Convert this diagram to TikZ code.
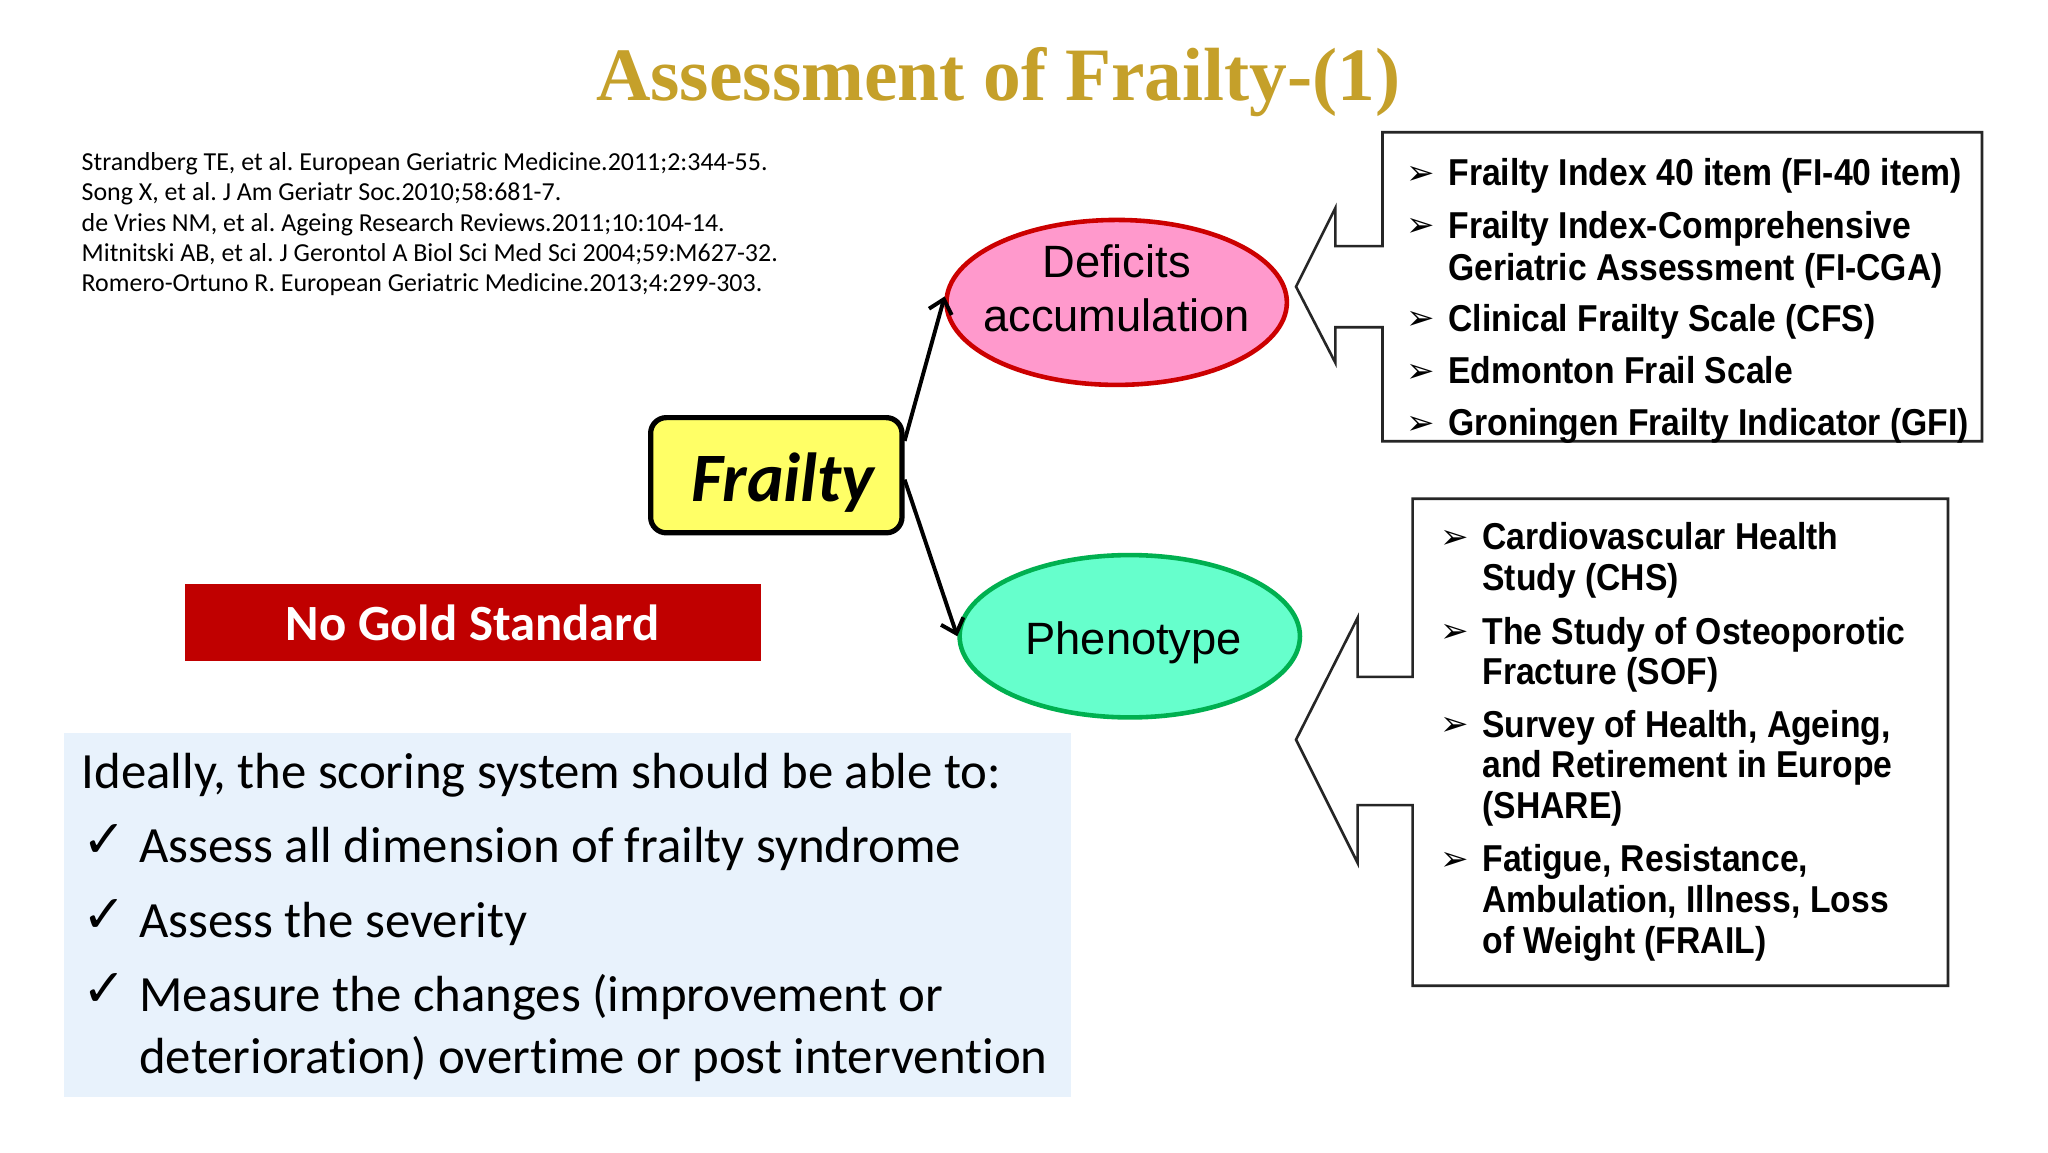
\documentclass[tikz,border=0pt]{standalone}
\usepackage{fontspec}
\setmainfont{Carlito}[Ligatures=NoCommon]
\newfontfamily\arialf{Liberation Sans}
\newfontfamily\arialc{Liberation Sans}[FakeStretch=0.9]
\newfontfamily\titlef{Liberation Serif}
\newfontfamily\djv{DejaVu Sans}
\usetikzlibrary{arrows.meta,shapes.geometric}
\definecolor{gold}{RGB}{197,160,42}
\definecolor{defred}{RGB}{204,0,0}
\definecolor{defpink}{RGB}{255,153,204}
\definecolor{phgreen}{RGB}{0,176,80}
\definecolor{phaqua}{RGB}{102,255,204}
\definecolor{fryellow}{RGB}{255,255,102}
\definecolor{ngred}{RGB}{192,0,0}
\definecolor{lightblue}{RGB}{232,242,252}
\frenchspacing
\tikzset{
  reftext/.style={anchor=base west, inner sep=0, font=\fontsize{9.9}{11}\selectfont},
  listtext/.style={anchor=base west, inner sep=0, font=\arialc\bfseries\fontsize{14.3}{16}\selectfont},
  bullet/.style={anchor=base west, inner sep=0, font=\djv\fontsize{13}{14}\selectfont},
  bluetext/.style={anchor=base west, inner sep=0, font=\fontsize{19.4}{22}\selectfont},
  checkmk/.style={anchor=base west, inner sep=0, font=\djv\fontsize{20}{22}\selectfont},
  elltext/.style={anchor=base, inner sep=0, font=\arialf\fontsize{17.3}{20}\selectfont},
  callout/.style={draw=black!85, line width=1pt, line join=miter},
  conn/.style={draw, line width=1.5pt, -{Straight Barb[length=5pt,width=9pt,line width=1.5pt]}}
}
\begin{document}
\begin{tikzpicture}[x=0.5pt,y=-0.5pt]
\useasboundingbox (0,0) rectangle (1564.4,880);
\fill[white] (0,0) rectangle (1564.4,880);

% title
\node[anchor=base, inner sep=0, text=gold, font=\titlef\bfseries\fontsize{28.8}{30}\selectfont] (title) at (762.5,77) {Assessment of Frailty-(1)};

% references
\node[reftext] (r1) at (62,130) {Strandberg TE, et al. European Geriatric Medicine.2011;2:344-55.};
\node[reftext] (r2) at (62,153) {Song X, et al. J Am Geriatr Soc.2010;58:681-7.};
\node[reftext] (r3) at (62,177) {de Vries NM, et al. Ageing Research Reviews.2011;10:104-14.};
\node[reftext] (r4) at (62,200) {Mitnitski AB, et al. J Gerontol A Biol Sci Med Sci 2004;59:M627-32.};
\node[reftext] (r5) at (62,223) {Romero-Ortuno R. European Geriatric Medicine.2013;4:299-303.};

% ellipses
\node[ellipse, draw=defred, fill=defpink, line width=1.75pt, minimum width=130pt, minimum height=63pt, inner sep=0] (def) at (853,231) {};
\node[elltext] (deft1) at (853,212) {Deficits};
\node[elltext] (deft2) at (853,253) {accumulation};
\node[ellipse, draw=phgreen, fill=phaqua, line width=1.75pt, minimum width=130pt, minimum height=62pt, inner sep=0] (phen) at (863,486) {};
\node[elltext] (phent) at (866,500) {Phenotype};

% frailty box
\node[draw=black, fill=fryellow, line width=2pt, rounded corners=6pt, minimum width=96pt, minimum height=44pt, inner sep=0] (fr) at (593,363) {};
\node[anchor=base, inner sep=0, font=\bfseries\itshape\fontsize{26.5}{28}\selectfont] (frt) at (598,383) {Frailty};

% arrows
\draw[conn] (fr.15) -- (def.178);
\draw[conn] (fr.-2) -- (phen.west);

% no gold standard
\node[fill=ngred, minimum width=220pt, minimum height=29.5pt, inner sep=0] (ng) at (361,475.5) {};
\node[anchor=base, inner sep=0, text=white, font=\bfseries\fontsize{19.4}{22}\selectfont] (ngt) at (361,489) {No Gold Standard};

% blue box
\fill[lightblue] (49,560) rectangle (818,838);
\node[bluetext] (b0) at (62,602) {Ideally, the scoring system should be able to:};
\node[checkmk] (c1) at (63,655) {✓};
\node[bluetext] (b1) at (106,659) {Assess all dimension of frailty syndrome};
\node[checkmk] (c2) at (63,712) {✓};
\node[bluetext] (b2) at (106,716) {Assess the severity};
\node[checkmk] (c3) at (63,769) {✓};
\node[bluetext] (b3) at (106,773) {Measure the changes (improvement or};
\node[bluetext] (b4) at (106,820) {deterioration) overtime or post intervention};

% callout box 1
\draw[callout] (1056,188) -- (1056,101) -- (1514,101) -- (1514,337) -- (1056,337) -- (1056,250) -- (1020,250) -- (1020,277) -- (990,219) -- (1020,159) -- (1020,188) -- cycle;
\node[bullet] (a1) at (1074,141) {➢};
\node[listtext] (l1) at (1106,142) {Frailty Index 40 item (FI-40 item)};
\node[bullet] (a2) at (1074,181) {➢};
\node[listtext] (l2) at (1106,182) {Frailty Index-Comprehensive};
\node[listtext] (l2b) at (1106,214) {Geriatric Assessment (FI-CGA)};
\node[bullet] (a3) at (1074,252) {➢};
\node[listtext] (l3) at (1106,253) {Clinical Frailty Scale (CFS)};
\node[bullet] (a4) at (1074,292) {➢};
\node[listtext] (l4) at (1106,293) {Edmonton Frail Scale};
\node[bullet] (a5) at (1074,332) {➢};
\node[listtext] (l5) at (1106,333) {Groningen Frailty Indicator (GFI)};

% callout box 2
\draw[callout] (1079,517) -- (1079,381) -- (1488,381) -- (1488,753) -- (1079,753) -- (1079,615) -- (1037,615) -- (1037,659) -- (990,565) -- (1037,472) -- (1037,517) -- cycle;
\node[bullet] (p1) at (1100,419) {➢};
\node[listtext] (q1) at (1132,420) {Cardiovascular Health};
\node[listtext] (q1b) at (1132,451) {Study (CHS)};
\node[bullet] (p2) at (1100,491) {➢};
\node[listtext] (q2) at (1132,492) {The Study of Osteoporotic};
\node[listtext] (q2b) at (1132,523) {Fracture (SOF)};
\node[bullet] (p3) at (1100,562) {➢};
\node[listtext] (q3) at (1132,563) {Survey of Health, Ageing,};
\node[listtext] (q3b) at (1132,594) {and Retirement in Europe};
\node[listtext] (q3c) at (1132,625) {(SHARE)};
\node[bullet] (p4) at (1100,665) {➢};
\node[listtext] (q4) at (1132,666) {Fatigue, Resistance,};
\node[listtext] (q4b) at (1132,697) {Ambulation, Illness, Loss};
\node[listtext] (q4c) at (1132,728) {of Weight (FRAIL)};
\end{tikzpicture}
\end{document}
